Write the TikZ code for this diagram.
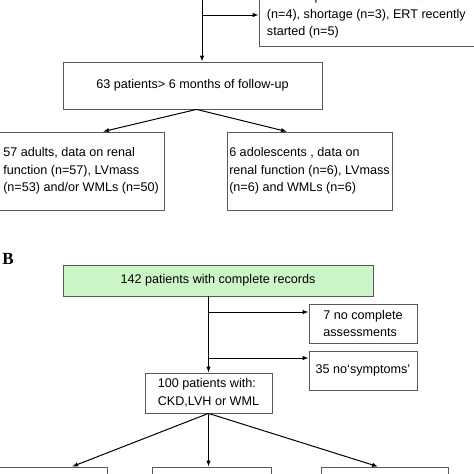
\documentclass[tikz,border=0pt]{standalone}
\usepackage{fontspec}
\setmainfont{Liberation Serif}
\setsansfont{Liberation Sans}
\usetikzlibrary{arrows.meta}

\definecolor{boxgray}{gray}{0.35}
\definecolor{recgreen}{RGB}{204,245,200}

\tikzstyle{textonly}=[align=left, inner sep=0pt, font=\fontsize{12.6}{17.6}\selectfont\sffamily]
\tikzstyle{box}=[textonly, rectangle, draw=boxgray, line width=0.8pt]
\tikzstyle{flow}=[->, line width=1pt]
\tikzstyle{paneltag}=[inner sep=0pt, font=\fontsize{17}{17}\selectfont\rmfamily\bfseries]

\begin{document}
\begin{tikzpicture}[x=1pt, y=-1pt, >={Latex[length=6pt,width=4.5pt]}]
  \useasboundingbox (0,0) rectangle (474,474);
  \clip (0,0) rectangle (474,474);

  % Nodes (panel A)
  \node (followup) [box] [minimum width=215, minimum height=62] at (366.5,15) {Follow-up < 6 months due to: death\\(n=4), shortage (n=3), ERT recently\\started (n=5)};
  \node (months) [box] [minimum width=259, minimum height=47] at (192.5,85.5) {63 patients> 6 months of follow-up};
  \node (adults) [box] [minimum width=166, minimum height=78] at (81,171) {57 adults, data on renal\\function (n=57), LVmass\\(n=53) and/or WMLs (n=50)};
  \node (adolesc) [box] [minimum width=165, minimum height=78] at (309.5,171) {6 adolescents , data on\\renal function (n=6), LVmass\\(n=6) and WMLs (n=6)};
  \coordinate (trunkA) at (202,-10);

  % Arrows (panel A)
  \draw [flow] (trunkA) -- (trunkA |- months.north);
  \draw [flow] (trunkA |- followup.west) -- (followup.west);
  \draw [flow] ([xshift=4pt]months.south) -- ([xshift=22pt]adults.north);
  \draw [flow] ([xshift=4pt]months.south) -- ([xshift=-22.5pt]adolesc.north);

  % Nodes (panel B)
  \node (tagB) [paneltag] at (8,259) {B};
  \node (records) [box, fill=recgreen] [minimum width=310, minimum height=31] at (218,280.5) {142 patients with complete records};
  \node (nocomplete) [box] [minimum width=108, minimum height=39] at (363,323.5) {7 no complete\\assessments};
  \node (nosympt) [box] [minimum width=108, minimum height=39] at (363,370.5) {35 no‘symptoms’};
  \node (ckd) [box] [minimum width=127, minimum height=40] at (208.5,393) {100 patients with:\\CKD,LVH or WML};
  \node (outleft) [box] [minimum width=112, minimum height=40] at (51,487) {};
  \node (outmid) [box] [minimum width=119, minimum height=40] at (211.5,487) {};
  \node (outright) [box] [minimum width=127, minimum height=40] at (384.5,487) {};
  \coordinate (intocomp) at ([yshift=11.5pt]nocomplete.west);
  \coordinate (intosympt) at ([yshift=12.5pt]nosympt.west);

  % Arrows (panel B)
  \draw [flow] (ckd.north |- records.south) -- (ckd.north);
  \draw [flow] (ckd.north |- intocomp) -- (intocomp);
  \draw [flow] (ckd.north |- intosympt) -- (intosympt);
  \draw [flow] (ckd.south) -- ([xshift=21pt]outleft.north);
  \draw [flow] (ckd.south) -- (ckd.south |- outmid.north);
  \draw [flow] (ckd.south) -- ([xshift=-6.5pt]outright.north);
\end{tikzpicture}
\end{document}
